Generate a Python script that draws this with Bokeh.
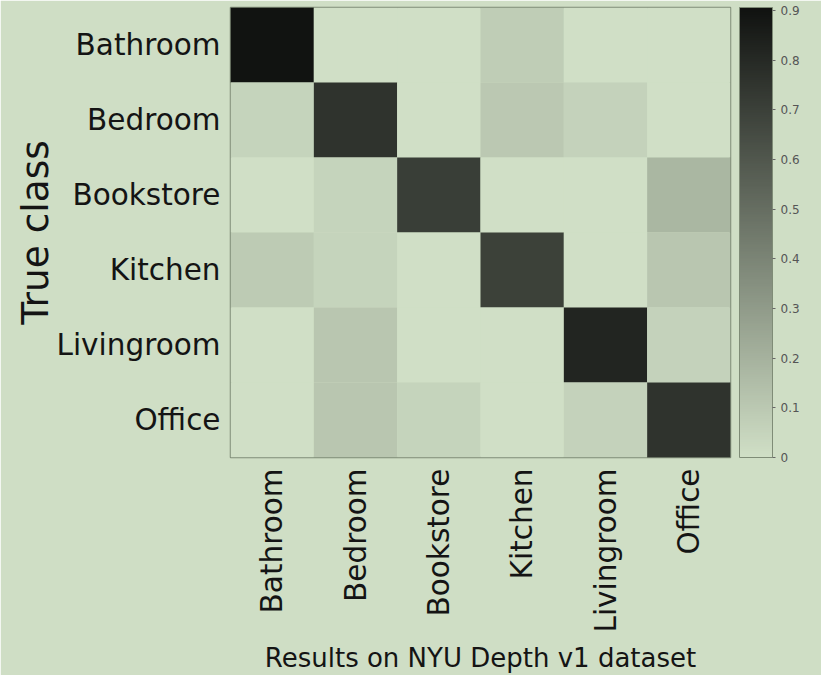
import numpy as np
from bokeh.plotting import figure
from bokeh.models import LinearColorMapper, ColorBar, FixedTicker, ColumnDataSource
from bokeh.embed import file_html
from bokeh.resources import INLINE

classes = ["Bathroom", "Bedroom", "Bookstore", "Kitchen", "Livingroom", "Office"]
row_bathroom = [0.90, 0.00, 0.00, 0.08, 0.00, 0.00]
row_bedroom = [0.05, 0.76, 0.00, 0.10, 0.06, 0.00]
row_bookstore = [0.00, 0.05, 0.71, 0.00, 0.00, 0.18]
row_kitchen = [0.09, 0.05, 0.00, 0.70, 0.00, 0.11]
row_livingroom = [0.00, 0.11, 0.00, 0.00, 0.82, 0.06]
row_office = [0.00, 0.11, 0.05, 0.00, 0.06, 0.76]
rows = [row_bathroom, row_bedroom, row_bookstore, row_kitchen, row_livingroom, row_office]
cbar_ticks = [0, 0.1, 0.2, 0.3, 0.4, 0.5, 0.6, 0.7, 0.8, 0.9]

BG = "#cfdec5"
lo = np.array([208, 223, 198])
hi = np.array([16, 18, 16])
palette = ["#%02x%02x%02x" % tuple(int(round(c)) for c in lo + (hi - lo) * t)
           for t in np.linspace(0, 1, 256)]
mapper = LinearColorMapper(palette=palette, low=0, high=0.906)

xs, ys, vs = [], [], []
for tc, row in zip(classes, rows):
    for pc, v in zip(classes, row):
        xs.append(pc); ys.append(tc); vs.append(v)
src = ColumnDataSource(dict(x=xs, y=ys, v=vs))

FONT = "DejaVu Sans"
p = figure(x_range=classes, y_range=list(reversed(classes)),
           frame_width=500, frame_height=450,
           min_border_left=230, min_border_top=7, min_border_bottom=218, min_border_right=91,
           output_backend="svg", toolbar_location=None,
           background_fill_color=BG, border_fill_color=BG)
p.rect(x="x", y="y", width=1, height=1, source=src,
       fill_color={"field": "v", "transform": mapper}, line_color=None)

p.outline_line_color = "#7f8c77"
p.outline_line_width = 1.5
p.grid.visible = False
for ax in (p.xaxis[0], p.yaxis[0]):
    ax.axis_line_color = None
    ax.major_tick_line_color = None
    ax.minor_tick_line_color = None
    ax.major_label_text_font = FONT
    ax.major_label_text_font_size = "29.5px"
    ax.major_label_text_color = "#141414"
    ax.axis_label_text_font = FONT
    ax.axis_label_text_font_style = "normal"
    ax.axis_label_text_color = "#141414"

p.xaxis.major_label_orientation = np.pi / 2
p.xaxis.major_label_standoff = 5
p.xaxis.axis_label = "Results on NYU Depth v1 dataset"
p.xaxis.axis_label_text_font_size = "26px"
p.xaxis.axis_label_standoff = 7

p.yaxis.major_label_standoff = 4
p.yaxis.axis_label = "True class"
p.yaxis.axis_label_text_font_size = "37.5px"
p.yaxis.axis_label_standoff = -4

cb = ColorBar(color_mapper=mapper, ticker=FixedTicker(ticks=cbar_ticks),
              width=33, height=450, location=(9, 0), margin=0, padding=0,
              bar_line_color="#7f8c77", bar_line_width=1,
              major_label_text_font=FONT, major_label_text_font_size="12px",
              major_label_text_color="#555555",
              major_tick_line_color="#666666", major_tick_in=0, major_tick_out=3,
              label_standoff=5, background_fill_color=None, border_line_color=None)
p.add_layout(cb, "right")

open("out.html", "w").write(file_html(p, INLINE))
